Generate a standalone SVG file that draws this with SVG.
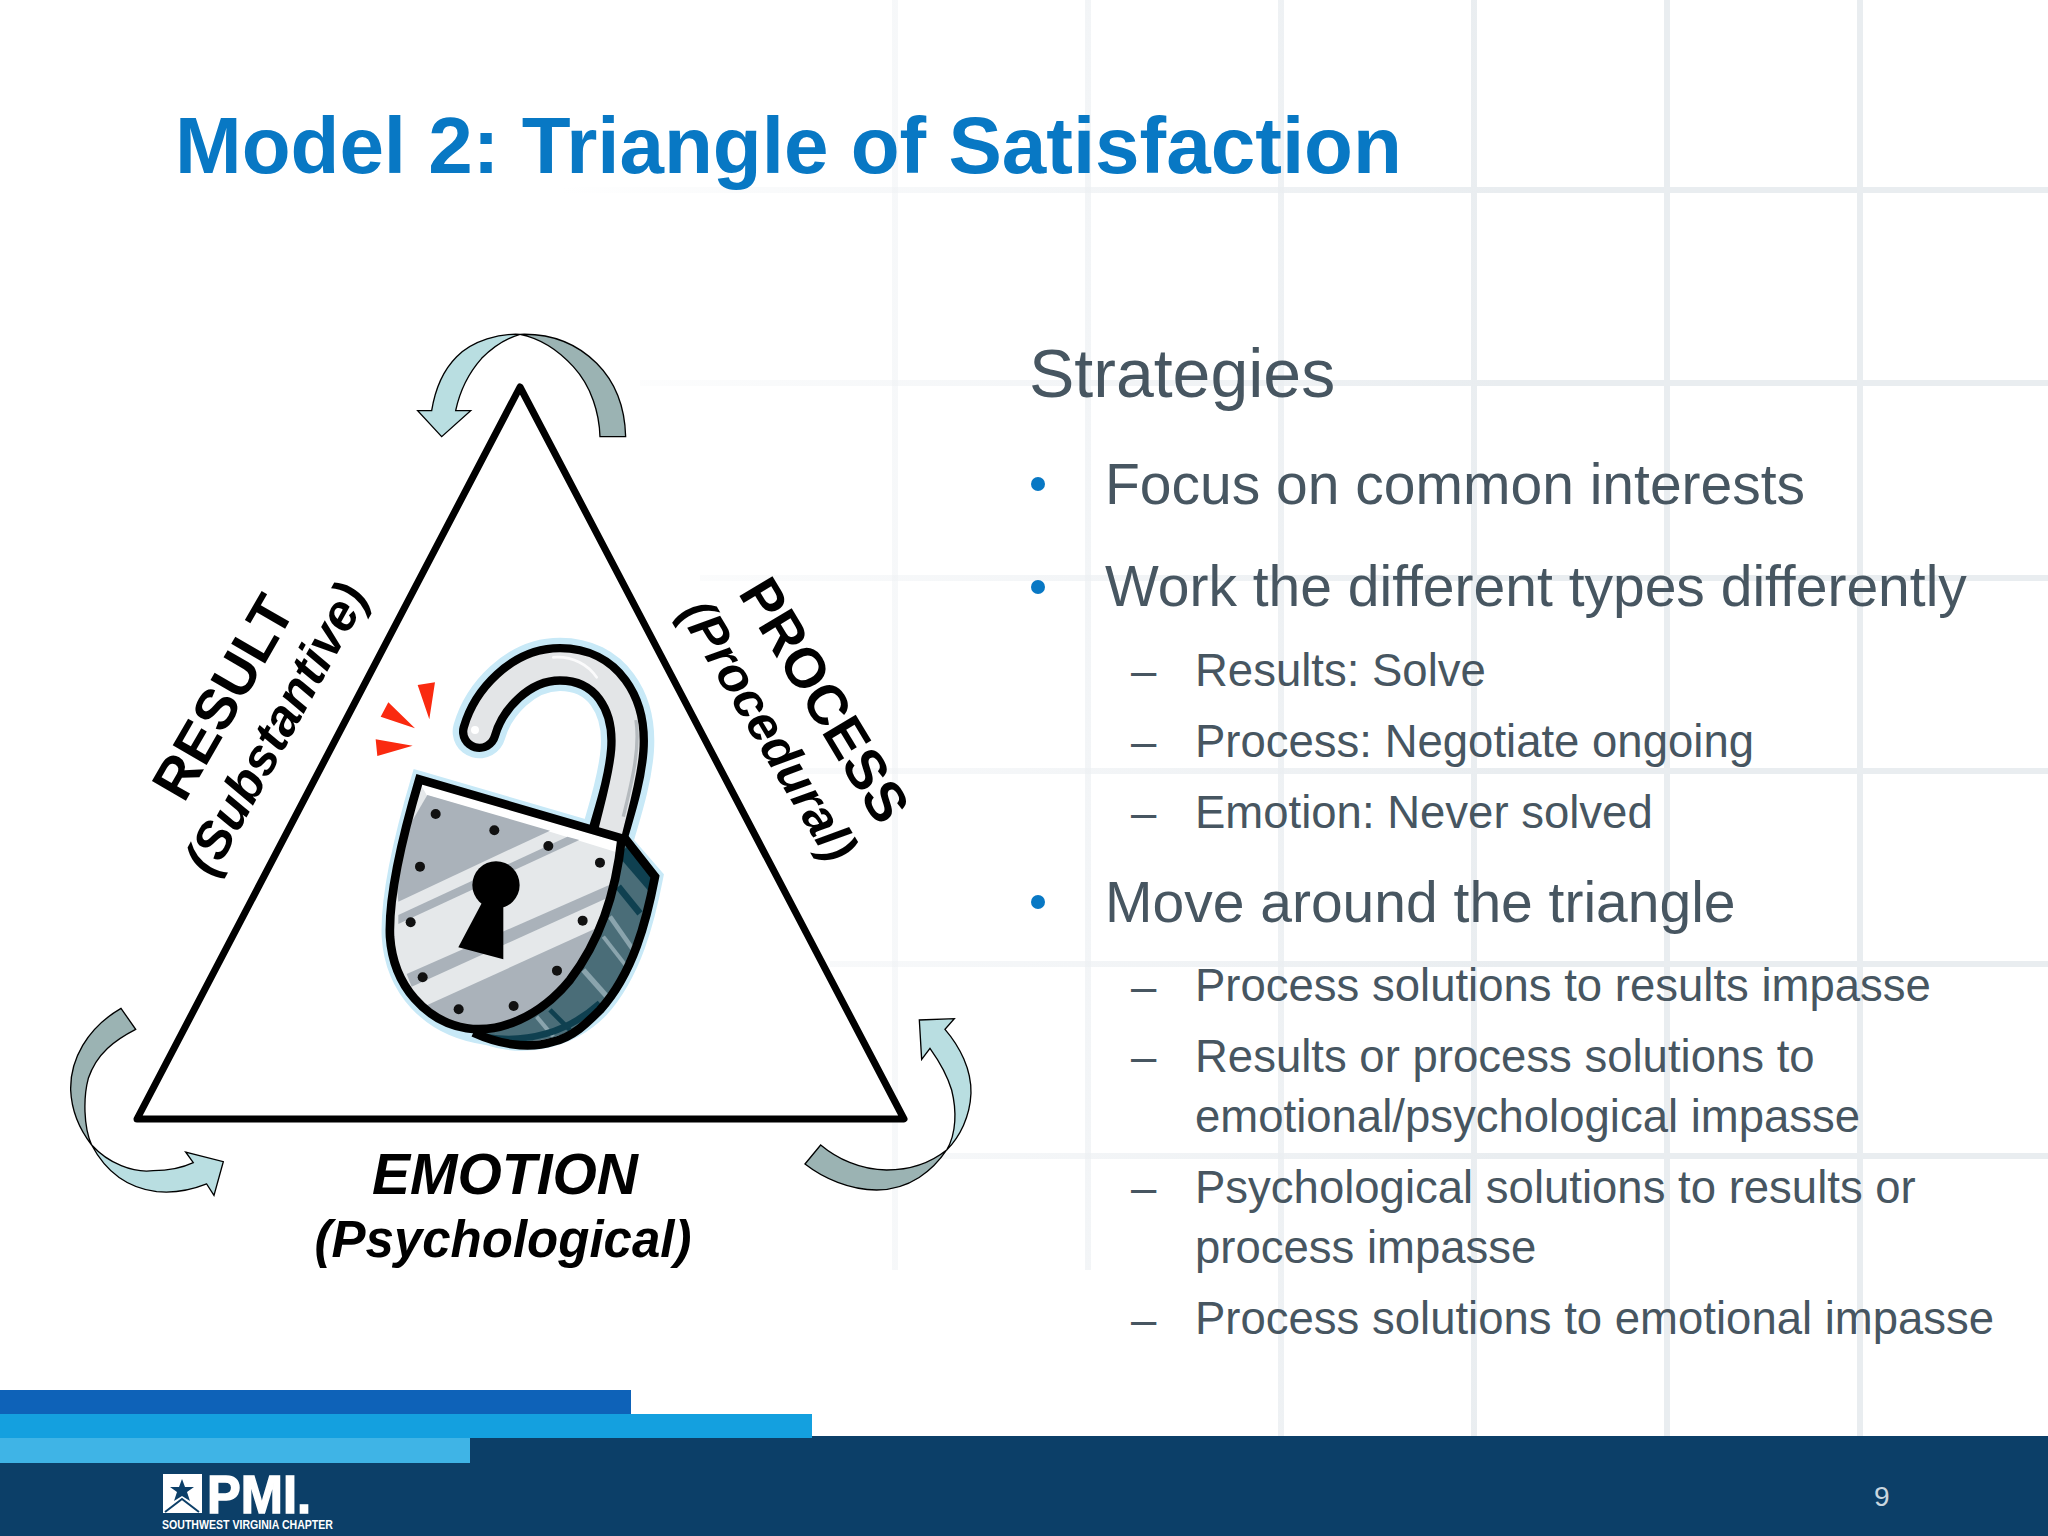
<svg xmlns="http://www.w3.org/2000/svg" width="2048" height="1536" viewBox="0 0 2048 1536">
<style>
.t{font-family:"Liberation Sans",Arial,sans-serif;fill:#475661}
.l0{font-size:68px}.l1{font-size:57px}.l2{font-size:45.5px}
.lab{font-family:"Liberation Sans",Arial,sans-serif;font-weight:bold;fill:#000;text-anchor:middle}
.a{stroke:#000;stroke-width:4;stroke-linejoin:miter}
.d{fill:#9bb3b3}.li{fill:#b9dee1}
.g{fill:none;stroke:url(#hg);stroke-width:6}
.r{fill:#111}
</style>
<defs>
<linearGradient id="hg" gradientUnits="userSpaceOnUse" x1="560" y1="0" x2="1500" y2="0"><stop offset="0" stop-color="#e9edf0" stop-opacity="0"/><stop offset=".35" stop-color="#eef1f4" stop-opacity=".5"/><stop offset="1" stop-color="#e9edf0"/></linearGradient>
<clipPath id="bodyClip"><path d="M238,478 L845,655 C830,800 790,950 690,1080 C600,1190 480,1240 380,1225 C260,1205 160,1100 150,950 C145,830 190,640 238,478Z"/></clipPath>
<clipPath id="sideClip"><path d="M855,655 L945,770 C920,900 880,1060 780,1170 C690,1260 560,1290 400,1240 C600,1230 800,1000 855,655Z"/></clipPath>
</defs>
<rect width="2048" height="1536" fill="#fff"/>
<g id="grid">
<path class="g" d="M895,0V1270M1088,0V1270M1281,0V1436M1474,0V1436M1667,0V1436M1860,0V1436"/>
<path class="g" d="M560,190H2048M640,383H2048M700,578H2048M800,771H2048M830,964H2048M940,1156H2048"/>
</g>
<text id="title" x="175" y="173" font-family="Liberation Sans,Arial,sans-serif" font-weight="bold" font-size="80" fill="#0878c4">Model 2: Triangle of Satisfaction</text>
<g id="triangle"><path d="M520,387 L904,1119 H137Z" fill="#fff" stroke="#000" stroke-width="7" stroke-linejoin="round"/></g>
<g id="connectors">
<g transform="translate(400,320) scale(.3333)">
<path class="a d" d="M360,43 C450,40 530,70 590,130 C650,190 675,270 677,350 L600,350 C598,280 575,200 520,140 C470,85 420,55 360,43Z"/>
<path class="a li" d="M360,43 C300,40 220,60 170,110 C130,150 105,210 95,272 L53,272 L125,350 L212,272 L167,272 C180,210 205,160 245,115 C280,80 320,55 360,43Z"/>
</g>
<g transform="translate(50,980) scale(.3333)">
<path class="a d" d="M213,85 C110,145 60,240 62,330 C65,400 90,450 125,495 C100,440 100,350 115,295 C140,220 195,180 257,148Z"/>
<path class="a li" d="M125,495 C175,550 250,580 310,572 C360,572 400,562 430,548 L407,516 L520,545 L492,646 L470,612 C420,632 370,640 320,635 C240,625 170,580 125,495Z"/>
</g>
<g transform="translate(780,1000) scale(.3333)">
<path class="a d" d="M75,492 L122,435 C170,475 240,510 320,510 C390,510 450,490 500,450 C460,510 390,570 290,570 C210,570 130,535 75,492Z"/>
<path class="a li" d="M500,450 C530,400 530,330 515,270 C500,220 475,180 450,145 L425,178 L418,60 L523,56 L495,88 C540,140 575,210 573,280 C570,350 540,410 500,450Z"/>
</g>
</g>
<g id="lock" transform="translate(340,620) scale(.3333)">
<path d="M418,335 C445,240 540,133 660,133 C800,133 872,250 862,390 C855,480 825,570 805,640" fill="none" stroke="#c8e9f7" stroke-width="160" stroke-linecap="round"/>
<path d="M238,478 L845,655 L945,770 C920,900 880,1060 780,1170 C690,1260 560,1290 440,1250 C260,1225 160,1100 150,950 C145,830 190,640 238,478Z" fill="#c8e9f7" stroke="#c8e9f7" stroke-width="50" stroke-linejoin="miter"/>
<path d="M418,335 C445,240 540,133 660,133 C800,133 872,250 862,390 C855,480 825,570 805,640" fill="none" stroke="#000" stroke-width="122" stroke-linecap="round"/>
<path d="M418,335 C445,240 540,133 660,133 C800,133 872,250 862,390 C855,480 825,570 805,660" fill="none" stroke="#e3e5e7" stroke-width="72" stroke-linecap="round"/>
<path d="M640,112 C700,108 745,135 770,172" fill="none" stroke="#fbfbfc" stroke-width="8" stroke-linecap="round"/>
<path d="M888,300 C900,380 880,470 850,590" fill="none" stroke="#b5babe" stroke-width="10"/>
<circle cx="405" cy="330" r="12" fill="#fff"/>
<path d="M855,655 L945,770 C920,900 880,1060 780,1170 C690,1260 560,1290 400,1240 C600,1230 800,1000 855,655Z" fill="#4a6d78"/>
<g clip-path="url(#sideClip)" fill="none" stroke-linecap="butt">
<path d="M850,690 L945,800" stroke="#0f4050" stroke-width="46"/>
<path d="M835,800 L900,880" stroke="#0f4050" stroke-width="20"/>
<path d="M810,890 L880,990" stroke="#8aa4ad" stroke-width="14"/>
<path d="M790,950 L860,1040" stroke="#8aa4ad" stroke-width="12"/>
<path d="M730,1050 L810,1140" stroke="#8aa4ad" stroke-width="16"/>
<path d="M590,1190 L640,1250" stroke="#8aa4ad" stroke-width="12"/>
<path d="M630,1170 L690,1230" stroke="#0f4050" stroke-width="14"/>
<path d="M440,1252 C560,1270 680,1240 780,1150" stroke="#0f4050" stroke-width="20"/>
</g>
<path d="M400,1238 C470,1270 560,1290 640,1265 C700,1250 740,1210 780,1170 C880,1060 920,900 945,770 L855,655" fill="none" stroke="#000" stroke-width="26" stroke-linejoin="miter"/>
<path d="M238,478 L845,655 C830,800 790,950 690,1080 C600,1190 480,1240 380,1225 C260,1205 160,1100 150,950 C145,830 190,640 238,478Z" fill="#e5e8ea"/>
<g clip-path="url(#bodyClip)">
<path d="M240,490 L850,670 L840,700 L630,635 L260,525Z" fill="#fff"/>
<path d="M262,525 L630,632 L175,845 L160,700Z" fill="#aab2ba"/>
<path d="M175,885 L682,650 L718,660 L175,912Z" fill="#aab2ba"/>
<path d="M200,1062 L830,785 L815,828 L215,1100Z" fill="#aab2ba"/>
<path d="M262,1155 L790,915 L790,1300 L200,1300Z" fill="#aab2ba"/>
</g>
<path d="M238,478 L845,655 C830,800 790,950 690,1080 C600,1190 480,1240 380,1225 C260,1205 160,1100 150,950 C145,830 190,640 238,478Z" fill="none" stroke="#000" stroke-width="26" stroke-linejoin="miter"/>
<circle class="r" cx="287" cy="582" r="15"/><circle class="r" cx="463" cy="631" r="15"/><circle class="r" cx="625" cy="678" r="15"/><circle class="r" cx="780" cy="728" r="15"/><circle class="r" cx="240" cy="740" r="15"/><circle class="r" cx="212" cy="907" r="15"/><circle class="r" cx="728" cy="902" r="15"/><circle class="r" cx="248" cy="1072" r="15"/><circle class="r" cx="651" cy="1052" r="15"/><circle class="r" cx="356" cy="1168" r="15"/><circle class="r" cx="521" cy="1158" r="15"/>
<circle cx="468" cy="795" r="71"/><path d="M425,850 L490,860 L490,1018 L355,982Z"/>
<path fill="#fa2a10" d="M233,195 L285,187 L268,298Z M145,247 L122,290 L225,325Z M107,358 L112,408 L218,377Z"/>
</g>
<g id="labels">
<text class="lab" font-size="57" transform="translate(240,707) rotate(-60)">RESULT</text>
<text class="lab" font-size="51" font-style="italic" transform="translate(291,737) rotate(-61)">(Substantive)</text>
<text class="lab" font-size="56" transform="translate(808,710) rotate(59)">PROCESS</text>
<text class="lab" font-size="50" font-style="italic" transform="translate(754,739) rotate(59)">(Procedural)</text>
<text class="lab" font-size="57" font-style="italic" x="505" y="1194">EMOTION</text>
<text class="lab" font-size="51" font-style="italic" x="503" y="1257">(Psychological)</text>
</g>
<g id="strategies">
<text class="t l0" x="1029" y="397">Strategies</text>
<g fill="#0878c4"><circle cx="1038" cy="484" r="7"/><circle cx="1038" cy="587" r="7"/><circle cx="1038" cy="902" r="7"/></g>
<text class="t l1" x="1105" y="504">Focus on common interests</text>
<text class="t l1" x="1105" y="606">Work the different types differently</text>
<text class="t l1" x="1105" y="922">Move around the triangle</text>
<g class="t l2">
<text x="1131" y="686">–</text><text x="1195" y="686">Results: Solve</text>
<text x="1131" y="757">–</text><text x="1195" y="757">Process: Negotiate ongoing</text>
<text x="1131" y="828">–</text><text x="1195" y="828">Emotion: Never solved</text>
<text x="1131" y="1002">–</text><text x="1195" y="1001">Process solutions to results impasse</text>
<text x="1131" y="1072">–</text><text x="1195" y="1072">Results or process solutions to</text>
<text x="1195" y="1132">emotional/psychological impasse</text>
<text x="1131" y="1203">–</text><text x="1195" y="1203">Psychological solutions to results or</text>
<text x="1195" y="1263">process impasse</text>
<text x="1131" y="1335">–</text><text x="1195" y="1334">Process solutions to emotional impasse</text>
</g>
</g>
<g id="footer">
<rect y="1436" width="2048" height="100" fill="#0c3f68"/>
<rect y="1390" width="631" height="25" fill="#0e62b8"/>
<rect y="1414" width="812" height="24" fill="#14a0df"/>
<rect y="1438" width="470" height="25" fill="#3fb4e6"/>
<rect x="163" y="1474" width="39" height="39" fill="#fff"/>
<path d="M182,1479 L185,1487 L194,1487 L187,1492 L190,1501 L182,1496 L174,1501 L177,1492 L170,1487 L179,1487Z" fill="#0c3f68"/>
<path d="M165,1512 L182,1499 L199,1512" fill="none" stroke="#0c3f68" stroke-width="2"/>
<text x="207" y="1513" font-family="Liberation Sans,Arial,sans-serif" font-weight="bold" font-size="54" fill="#fff" stroke="#fff" stroke-width="1.5" textLength="104" lengthAdjust="spacingAndGlyphs">PMI.</text>
<text x="162" y="1529" font-family="Liberation Sans,Arial,sans-serif" font-weight="bold" font-size="13" fill="#fff" textLength="171" lengthAdjust="spacingAndGlyphs">SOUTHWEST VIRGINIA CHAPTER</text>
<text x="1874" y="1506" font-family="Liberation Sans,Arial,sans-serif" font-size="28" fill="#c9d6df">9</text>
</g>
</svg>
